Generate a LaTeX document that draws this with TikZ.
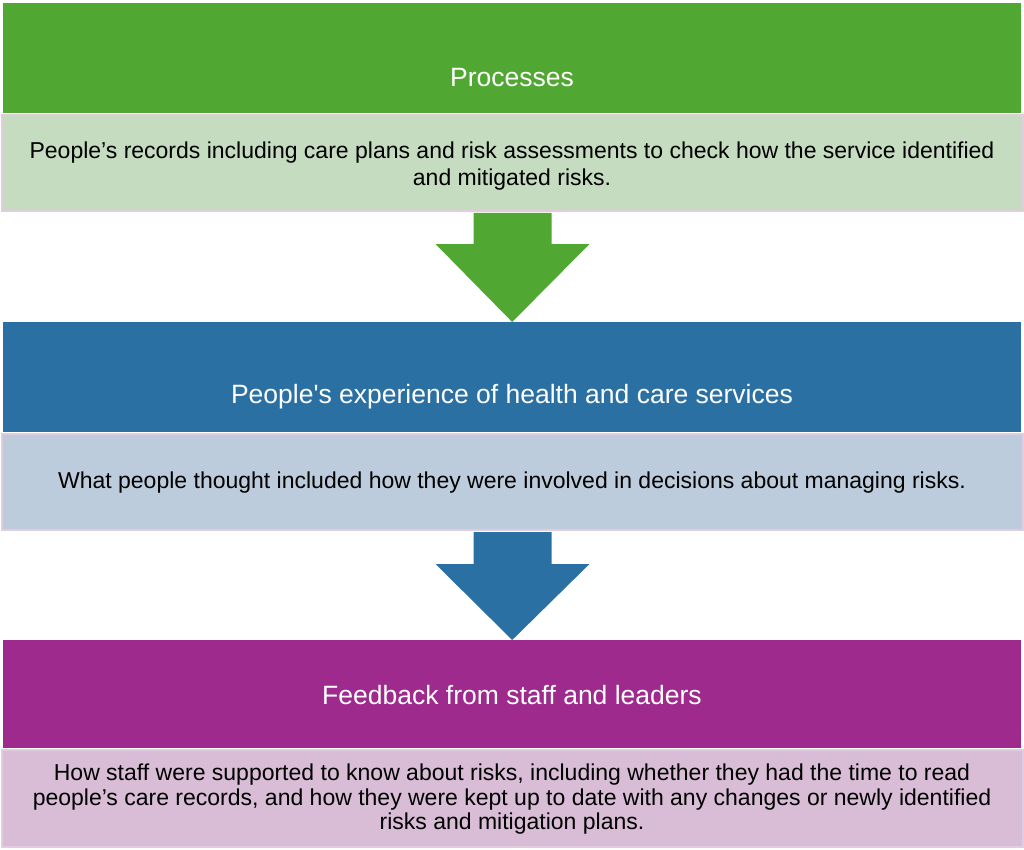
\documentclass[tikz,border=0pt]{standalone}
\usepackage{fontspec}
\setmainfont{Liberation Sans}[Ligatures=TeXOff]
\usetikzlibrary{calc}
\definecolor{hgreen}{HTML}{50A732}
\definecolor{lgreen}{HTML}{C5DCC0}
\definecolor{hblue}{HTML}{2B70A3}
\definecolor{lblue}{HTML}{BCCCDC}
\definecolor{hpurple}{HTML}{9E2A8E}
\definecolor{lpurple}{HTML}{D9BCD5}
\definecolor{pborder}{HTML}{E2CCE0}
\tikzset{
  header/.style={rectangle, inner sep=0pt, minimum width=1018pt, minimum height=110pt, anchor=north west},
  body/.style={rectangle, draw=pborder, line width=2pt, inner sep=0pt, minimum width=1021pt, minimum height=96pt, anchor=north west},
  htext/.style={text=white, font=\fontsize{26.5}{30}\selectfont, inner sep=0pt},
  btext/.style={text=black, font=\fontsize{23}{27}\selectfont, align=center, inner sep=0pt},
}
\begin{document}
\begin{tikzpicture}[x=1pt,y=-1pt]
\useasboundingbox (0,0) rectangle (1024,850);
% green
\node[header, fill=hgreen] (h1) at (3,3) {};
\node[body, fill=lgreen] (b1) at (1,114) {};
\node[htext] (t1) at (512,78) {Processes};
\node[btext] (s1) at (512,166) {People’s records including care plans and risk assessments to check how the service identified\\and mitigated risks.};
% blue
\node[header, fill=hblue] (h2) at (3,322) {};
\node[body, fill=lblue] (b2) at (1,433) {};
\node[htext] (t2) at (512,397) {People's experience of health and care services};
\node[btext] (s2) at (512,483) {What people thought included how they were involved in decisions about managing risks.};
% purple
\node[header, fill=hpurple, minimum height=108pt] (h3) at (3,640) {};
\node[body, fill=lpurple, minimum height=97pt] (b3) at (1,749) {};
\node[htext] (t3) at (512,695) {Feedback from staff and leaders};
\node[btext, font=\fontsize{23}{24.5}\selectfont] (s3) at (512,799.5) {How staff were supported to know about risks, including whether they had the time to read\\people’s care records, and how they were kept up to date with any changes or newly identified\\risks and mitigation plans.};
% arrows
\fill[hgreen] ($(b1.south)+(-39,1)$) -- ($(b1.south)+(39,1)$) -- ($(b1.south)+(39,32)$) -- ($(b1.south)+(77,32)$) -- (h2.north) -- ($(b1.south)+(-77,32)$) -- ($(b1.south)+(-39,32)$) -- cycle;
\fill[hblue] ($(b2.south)+(-39,1)$) -- ($(b2.south)+(39,1)$) -- ($(b2.south)+(39,33)$) -- ($(b2.south)+(77,33)$) -- (h3.north) -- ($(b2.south)+(-77,33)$) -- ($(b2.south)+(-39,33)$) -- cycle;
\end{tikzpicture}
\end{document}
